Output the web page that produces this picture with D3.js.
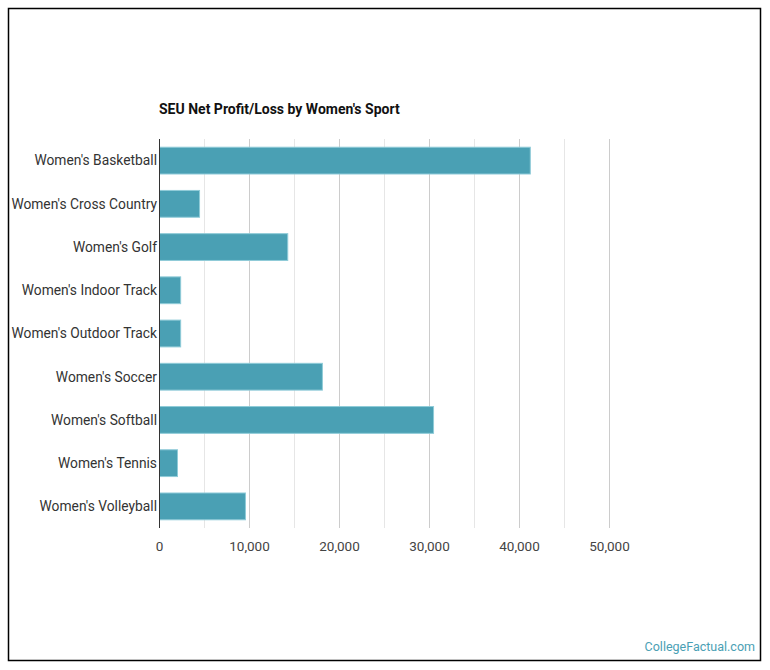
<!DOCTYPE html>
<html>
<head>
<meta charset="utf-8">
<script src="https://cdn.jsdelivr.net/npm/d3@7"></script>
<style>
  body { margin: 0; background: #fff; }
  text { font-family: Roboto, "Noto Sans", sans-serif; }
</style>
</head>
<body>
<div id="chart"></div>
<script>
var sports = ["Women's Basketball", "Women's Cross Country", "Women's Golf", "Women's Indoor Track",
  "Women's Outdoor Track", "Women's Soccer", "Women's Softball", "Women's Tennis", "Women's Volleyball"];
var profit = [41200, 4450, 14250, 2350, 2350, 18100, 30450, 2000, 9550];
var xTicks = [0, 10000, 20000, 30000, 40000, 50000];
var gridTicks = d3.range(5000, 50001, 5000);

var width = 770, height = 670;
var svg = d3.select("#chart").append("svg")
  .attr("width", width)
  .attr("height", height);

// outer frame
svg.append("rect")
  .attr("x", 8.5).attr("y", 8.5)
  .attr("width", 752).attr("height", 652)
  .attr("fill", "none")
  .attr("stroke", "#000")
  .attr("stroke-width", 1.5);

var xScale = d3.scaleLinear().domain([0, 50000]).range([159.5, 609.5]);
var yScale = d3.scaleBand().domain(sports).range([139, 528])
  .paddingInner(0.38).paddingOuter(0.19);

svg.append("text")
  .attr("x", 159).attr("y", 114)
  .attr("font-size", 14).attr("font-weight", "bold")
  .attr("fill", "#111")
  .text("SEU Net Profit/Loss by Women's Sport");

// gridlines
svg.append("g").selectAll("line").data(gridTicks).enter().append("line")
  .attr("x1", function(d){ return Math.round(xScale(d)) - 0.5; })
  .attr("x2", function(d){ return Math.round(xScale(d)) - 0.5; })
  .attr("y1", 139).attr("y2", 528)
  .attr("stroke", function(d){ return d % 10000 == 0 ? "#cccccc" : "#e6e6e6"; })
  .attr("stroke-width", 1);

// bars
svg.append("g").selectAll("rect").data(sports).enter().append("rect")
  .attr("x", xScale(0))
  .attr("y", function(d){ return yScale(d); })
  .attr("width", function(d, i){ return xScale(profit[i]) - xScale(0); })
  .attr("height", yScale.bandwidth())
  .attr("fill", "#4aa0b4")
  .attr("stroke", "#8fcbd8")
  .attr("stroke-width", 1);

// y axis line
svg.append("line")
  .attr("x1", 159.5).attr("x2", 159.5)
  .attr("y1", 139).attr("y2", 528)
  .attr("stroke", "#333").attr("stroke-width", 1);

// category labels
svg.append("g").selectAll("text").data(sports).enter().append("text")
  .attr("x", 157)
  .attr("y", function(d){ return yScale(d) + yScale.bandwidth() / 2; })
  .attr("dy", "0.35em")
  .attr("text-anchor", "end")
  .attr("font-size", 13.8)
  .attr("fill", "#333")
  .text(function(d){ return d; });

// x tick labels
svg.append("g").selectAll("text").data(xTicks).enter().append("text")
  .attr("x", function(d){ return xScale(d); })
  .attr("y", 546)
  .attr("dy", "0.35em")
  .attr("text-anchor", "middle")
  .attr("font-size", 13.5)
  .attr("fill", "#444")
  .text(function(d){ return d3.format(",")(d); });

svg.append("text")
  .attr("x", 755).attr("y", 651)
  .attr("text-anchor", "end")
  .attr("font-size", 12.5)
  .attr("fill", "#4aa0b4")
  .text("CollegeFactual.com");
</script>
</body>
</html>
